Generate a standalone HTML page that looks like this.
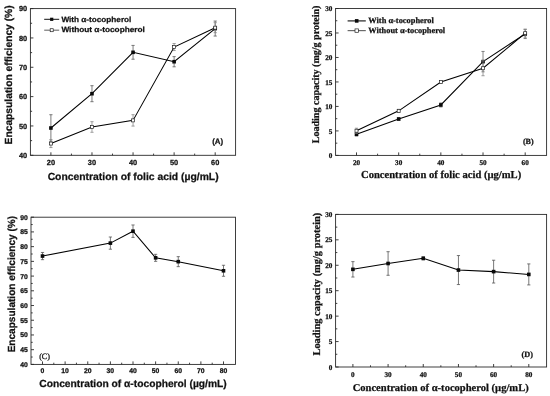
<!DOCTYPE html>
<html lang="en"><head><meta charset="utf-8"><title>Figure</title>
<style>html,body{margin:0;padding:0;background:#fff;}body{width:550px;height:396px;overflow:hidden;}</style></head>
<body>
<svg width="550" height="396" viewBox="0 0 550 396" style="display:block" text-rendering="geometricPrecision">
<rect width="550" height="396" fill="#fff"/>
<g>
<rect x="30.40" y="8.60" width="205.20" height="146.70" fill="none" stroke="#2a2a2a" stroke-width="0.9"/>
<line x1="50.90" y1="155.30" x2="50.90" y2="152.30" stroke="#2a2a2a" stroke-width="0.9"/>
<text x="50.90" y="165.00" font-size="7.4" font-family='"Liberation Sans", Arial, Helvetica, sans-serif' font-weight="bold" text-anchor="middle" fill="#111" stroke="#111" stroke-width="0.25">20</text>
<line x1="91.97" y1="155.30" x2="91.97" y2="152.30" stroke="#2a2a2a" stroke-width="0.9"/>
<text x="91.97" y="165.00" font-size="7.4" font-family='"Liberation Sans", Arial, Helvetica, sans-serif' font-weight="bold" text-anchor="middle" fill="#111" stroke="#111" stroke-width="0.25">30</text>
<line x1="133.05" y1="155.30" x2="133.05" y2="152.30" stroke="#2a2a2a" stroke-width="0.9"/>
<text x="133.05" y="165.00" font-size="7.4" font-family='"Liberation Sans", Arial, Helvetica, sans-serif' font-weight="bold" text-anchor="middle" fill="#111" stroke="#111" stroke-width="0.25">40</text>
<line x1="174.12" y1="155.30" x2="174.12" y2="152.30" stroke="#2a2a2a" stroke-width="0.9"/>
<text x="174.12" y="165.00" font-size="7.4" font-family='"Liberation Sans", Arial, Helvetica, sans-serif' font-weight="bold" text-anchor="middle" fill="#111" stroke="#111" stroke-width="0.25">50</text>
<line x1="215.20" y1="155.30" x2="215.20" y2="152.30" stroke="#2a2a2a" stroke-width="0.9"/>
<text x="215.20" y="165.00" font-size="7.4" font-family='"Liberation Sans", Arial, Helvetica, sans-serif' font-weight="bold" text-anchor="middle" fill="#111" stroke="#111" stroke-width="0.25">60</text>
<line x1="71.44" y1="155.30" x2="71.44" y2="153.60" stroke="#2a2a2a" stroke-width="0.9"/>
<line x1="112.51" y1="155.30" x2="112.51" y2="153.60" stroke="#2a2a2a" stroke-width="0.9"/>
<line x1="153.59" y1="155.30" x2="153.59" y2="153.60" stroke="#2a2a2a" stroke-width="0.9"/>
<line x1="194.66" y1="155.30" x2="194.66" y2="153.60" stroke="#2a2a2a" stroke-width="0.9"/>
<line x1="30.40" y1="155.30" x2="33.40" y2="155.30" stroke="#2a2a2a" stroke-width="0.9"/>
<text x="27.20" y="157.96" font-size="7.4" font-family='"Liberation Sans", Arial, Helvetica, sans-serif' font-weight="bold" text-anchor="end" fill="#111" stroke="#111" stroke-width="0.25">40</text>
<line x1="30.40" y1="125.96" x2="33.40" y2="125.96" stroke="#2a2a2a" stroke-width="0.9"/>
<text x="27.20" y="128.62" font-size="7.4" font-family='"Liberation Sans", Arial, Helvetica, sans-serif' font-weight="bold" text-anchor="end" fill="#111" stroke="#111" stroke-width="0.25">50</text>
<line x1="30.40" y1="96.62" x2="33.40" y2="96.62" stroke="#2a2a2a" stroke-width="0.9"/>
<text x="27.20" y="99.28" font-size="7.4" font-family='"Liberation Sans", Arial, Helvetica, sans-serif' font-weight="bold" text-anchor="end" fill="#111" stroke="#111" stroke-width="0.25">60</text>
<line x1="30.40" y1="67.28" x2="33.40" y2="67.28" stroke="#2a2a2a" stroke-width="0.9"/>
<text x="27.20" y="69.94" font-size="7.4" font-family='"Liberation Sans", Arial, Helvetica, sans-serif' font-weight="bold" text-anchor="end" fill="#111" stroke="#111" stroke-width="0.25">70</text>
<line x1="30.40" y1="37.94" x2="33.40" y2="37.94" stroke="#2a2a2a" stroke-width="0.9"/>
<text x="27.20" y="40.60" font-size="7.4" font-family='"Liberation Sans", Arial, Helvetica, sans-serif' font-weight="bold" text-anchor="end" fill="#111" stroke="#111" stroke-width="0.25">80</text>
<line x1="30.40" y1="8.60" x2="33.40" y2="8.60" stroke="#2a2a2a" stroke-width="0.9"/>
<text x="27.20" y="11.26" font-size="7.4" font-family='"Liberation Sans", Arial, Helvetica, sans-serif' font-weight="bold" text-anchor="end" fill="#111" stroke="#111" stroke-width="0.25">90</text>
<line x1="30.40" y1="140.63" x2="32.10" y2="140.63" stroke="#2a2a2a" stroke-width="0.9"/>
<line x1="30.40" y1="111.29" x2="32.10" y2="111.29" stroke="#2a2a2a" stroke-width="0.9"/>
<line x1="30.40" y1="81.95" x2="32.10" y2="81.95" stroke="#2a2a2a" stroke-width="0.9"/>
<line x1="30.40" y1="52.61" x2="32.10" y2="52.61" stroke="#2a2a2a" stroke-width="0.9"/>
<line x1="30.40" y1="23.27" x2="32.10" y2="23.27" stroke="#2a2a2a" stroke-width="0.9"/>
<text x="133.15" y="180.10" font-size="10.3" font-family='"Liberation Sans", Arial, Helvetica, sans-serif' font-weight="bold" text-anchor="middle" fill="#111" stroke="#111" stroke-width="0.25" textLength="171.0" lengthAdjust="spacingAndGlyphs">Concentration of folic acid (µg/mL)</text>
<text x="11.80" y="74.90" font-size="10.3" font-family='"Liberation Sans", Arial, Helvetica, sans-serif' font-weight="bold" text-anchor="middle" fill="#111" stroke="#111" stroke-width="0.25" transform="rotate(-90 11.80 74.90)" textLength="139.0" lengthAdjust="spacingAndGlyphs">Encapsulation efficiency (%)</text>
<text x="217.70" y="144.00" font-size="7.9" font-family='"Liberation Sans", Arial, Helvetica, sans-serif' font-weight="bold" text-anchor="middle" fill="#111" stroke="#111" stroke-width="0.25">(A)</text>
<line x1="50.90" y1="114.71" x2="50.90" y2="141.31" stroke="#5a5a5a" stroke-width="0.8"/>
<line x1="49.30" y1="114.71" x2="52.50" y2="114.71" stroke="#5a5a5a" stroke-width="0.8"/>
<line x1="49.30" y1="141.31" x2="52.50" y2="141.31" stroke="#5a5a5a" stroke-width="0.8"/>
<line x1="91.97" y1="85.69" x2="91.97" y2="101.69" stroke="#5a5a5a" stroke-width="0.8"/>
<line x1="90.38" y1="85.69" x2="93.57" y2="85.69" stroke="#5a5a5a" stroke-width="0.8"/>
<line x1="90.38" y1="101.69" x2="93.57" y2="101.69" stroke="#5a5a5a" stroke-width="0.8"/>
<line x1="133.05" y1="45.42" x2="133.05" y2="59.22" stroke="#5a5a5a" stroke-width="0.8"/>
<line x1="131.45" y1="45.42" x2="134.65" y2="45.42" stroke="#5a5a5a" stroke-width="0.8"/>
<line x1="131.45" y1="59.22" x2="134.65" y2="59.22" stroke="#5a5a5a" stroke-width="0.8"/>
<line x1="174.12" y1="56.61" x2="174.12" y2="66.81" stroke="#5a5a5a" stroke-width="0.8"/>
<line x1="172.52" y1="56.61" x2="175.72" y2="56.61" stroke="#5a5a5a" stroke-width="0.8"/>
<line x1="172.52" y1="66.81" x2="175.72" y2="66.81" stroke="#5a5a5a" stroke-width="0.8"/>
<line x1="215.20" y1="21.05" x2="215.20" y2="36.05" stroke="#5a5a5a" stroke-width="0.8"/>
<line x1="213.60" y1="21.05" x2="216.80" y2="21.05" stroke="#5a5a5a" stroke-width="0.8"/>
<line x1="213.60" y1="36.05" x2="216.80" y2="36.05" stroke="#5a5a5a" stroke-width="0.8"/>
<polyline fill="none" stroke="#000" stroke-width="1.05" points="50.90,128.01 91.97,93.69 133.05,52.32 174.12,61.71 215.20,28.55"/>
<rect x="49.10" y="126.21" width="3.6" height="3.6" fill="#0a0a0a"/>
<rect x="90.17" y="91.89" width="3.6" height="3.6" fill="#0a0a0a"/>
<rect x="131.25" y="50.52" width="3.6" height="3.6" fill="#0a0a0a"/>
<rect x="172.32" y="59.91" width="3.6" height="3.6" fill="#0a0a0a"/>
<rect x="213.40" y="26.75" width="3.6" height="3.6" fill="#0a0a0a"/>
<line x1="50.90" y1="139.56" x2="50.90" y2="147.56" stroke="#888" stroke-width="0.8"/>
<line x1="49.30" y1="139.56" x2="52.50" y2="139.56" stroke="#888" stroke-width="0.8"/>
<line x1="49.30" y1="147.56" x2="52.50" y2="147.56" stroke="#888" stroke-width="0.8"/>
<line x1="91.97" y1="121.69" x2="91.97" y2="132.29" stroke="#888" stroke-width="0.8"/>
<line x1="90.38" y1="121.69" x2="93.57" y2="121.69" stroke="#888" stroke-width="0.8"/>
<line x1="90.38" y1="132.29" x2="93.57" y2="132.29" stroke="#888" stroke-width="0.8"/>
<line x1="133.05" y1="114.69" x2="133.05" y2="126.09" stroke="#888" stroke-width="0.8"/>
<line x1="131.45" y1="114.69" x2="134.65" y2="114.69" stroke="#888" stroke-width="0.8"/>
<line x1="131.45" y1="126.09" x2="134.65" y2="126.09" stroke="#888" stroke-width="0.8"/>
<line x1="174.12" y1="43.54" x2="174.12" y2="50.54" stroke="#888" stroke-width="0.8"/>
<line x1="172.52" y1="43.54" x2="175.72" y2="43.54" stroke="#888" stroke-width="0.8"/>
<line x1="172.52" y1="50.54" x2="175.72" y2="50.54" stroke="#888" stroke-width="0.8"/>
<line x1="215.20" y1="22.67" x2="215.20" y2="32.67" stroke="#888" stroke-width="0.8"/>
<line x1="213.60" y1="22.67" x2="216.80" y2="22.67" stroke="#888" stroke-width="0.8"/>
<line x1="213.60" y1="32.67" x2="216.80" y2="32.67" stroke="#888" stroke-width="0.8"/>
<polyline fill="none" stroke="#000" stroke-width="1.05" points="50.90,143.56 91.97,126.99 133.05,120.39 174.12,47.04 215.20,27.67"/>
<rect x="49.40" y="142.06" width="3.0" height="3.0" fill="#fff" stroke="#222" stroke-width="0.7"/>
<rect x="90.47" y="125.49" width="3.0" height="3.0" fill="#fff" stroke="#222" stroke-width="0.7"/>
<rect x="131.55" y="118.89" width="3.0" height="3.0" fill="#fff" stroke="#222" stroke-width="0.7"/>
<rect x="172.62" y="45.54" width="3.0" height="3.0" fill="#fff" stroke="#222" stroke-width="0.7"/>
<rect x="213.70" y="26.17" width="3.0" height="3.0" fill="#fff" stroke="#222" stroke-width="0.7"/>
<line x1="44.20" y1="19.30" x2="59.20" y2="19.30" stroke="#111" stroke-width="1.0"/>
<rect x="50.10" y="17.70" width="3.2" height="3.2" fill="#0a0a0a"/>
<text x="61.40" y="21.73" font-size="7.5" font-family='"Liberation Sans", Arial, Helvetica, sans-serif' font-weight="bold" text-anchor="start" fill="#111" stroke="#111" stroke-width="0.25" textLength="70.0" lengthAdjust="spacingAndGlyphs">With α-tocopherol</text>
<line x1="44.20" y1="30.20" x2="59.20" y2="30.20" stroke="#777" stroke-width="1.2"/>
<rect x="50.20" y="28.70" width="3.0" height="3.0" fill="#fff" stroke="#222" stroke-width="0.7"/>
<text x="61.40" y="32.12" font-size="7.5" font-family='"Liberation Sans", Arial, Helvetica, sans-serif' font-weight="bold" text-anchor="start" fill="#111" stroke="#111" stroke-width="0.25" textLength="83.5" lengthAdjust="spacingAndGlyphs">Without α-tocopherol</text>
</g>
<g>
<rect x="335.60" y="8.50" width="211.00" height="146.90" fill="none" stroke="#2a2a2a" stroke-width="0.9"/>
<line x1="356.50" y1="155.40" x2="356.50" y2="152.40" stroke="#2a2a2a" stroke-width="0.9"/>
<text x="356.50" y="164.80" font-size="7.2" font-family='"Liberation Serif", "Times New Roman", Times, serif' font-weight="bold" text-anchor="middle" fill="#111" stroke="#111" stroke-width="0.25">20</text>
<line x1="398.68" y1="155.40" x2="398.68" y2="152.40" stroke="#2a2a2a" stroke-width="0.9"/>
<text x="398.68" y="164.80" font-size="7.2" font-family='"Liberation Serif", "Times New Roman", Times, serif' font-weight="bold" text-anchor="middle" fill="#111" stroke="#111" stroke-width="0.25">30</text>
<line x1="440.85" y1="155.40" x2="440.85" y2="152.40" stroke="#2a2a2a" stroke-width="0.9"/>
<text x="440.85" y="164.80" font-size="7.2" font-family='"Liberation Serif", "Times New Roman", Times, serif' font-weight="bold" text-anchor="middle" fill="#111" stroke="#111" stroke-width="0.25">40</text>
<line x1="483.03" y1="155.40" x2="483.03" y2="152.40" stroke="#2a2a2a" stroke-width="0.9"/>
<text x="483.03" y="164.80" font-size="7.2" font-family='"Liberation Serif", "Times New Roman", Times, serif' font-weight="bold" text-anchor="middle" fill="#111" stroke="#111" stroke-width="0.25">50</text>
<line x1="525.20" y1="155.40" x2="525.20" y2="152.40" stroke="#2a2a2a" stroke-width="0.9"/>
<text x="525.20" y="164.80" font-size="7.2" font-family='"Liberation Serif", "Times New Roman", Times, serif' font-weight="bold" text-anchor="middle" fill="#111" stroke="#111" stroke-width="0.25">60</text>
<line x1="377.59" y1="155.40" x2="377.59" y2="153.70" stroke="#2a2a2a" stroke-width="0.9"/>
<line x1="419.76" y1="155.40" x2="419.76" y2="153.70" stroke="#2a2a2a" stroke-width="0.9"/>
<line x1="461.94" y1="155.40" x2="461.94" y2="153.70" stroke="#2a2a2a" stroke-width="0.9"/>
<line x1="504.11" y1="155.40" x2="504.11" y2="153.70" stroke="#2a2a2a" stroke-width="0.9"/>
<line x1="335.60" y1="155.40" x2="338.60" y2="155.40" stroke="#2a2a2a" stroke-width="0.9"/>
<text x="332.40" y="157.99" font-size="7.2" font-family='"Liberation Serif", "Times New Roman", Times, serif' font-weight="bold" text-anchor="end" fill="#111" stroke="#111" stroke-width="0.25">0</text>
<line x1="335.60" y1="130.92" x2="338.60" y2="130.92" stroke="#2a2a2a" stroke-width="0.9"/>
<text x="332.40" y="133.51" font-size="7.2" font-family='"Liberation Serif", "Times New Roman", Times, serif' font-weight="bold" text-anchor="end" fill="#111" stroke="#111" stroke-width="0.25">5</text>
<line x1="335.60" y1="106.43" x2="338.60" y2="106.43" stroke="#2a2a2a" stroke-width="0.9"/>
<text x="332.40" y="109.03" font-size="7.2" font-family='"Liberation Serif", "Times New Roman", Times, serif' font-weight="bold" text-anchor="end" fill="#111" stroke="#111" stroke-width="0.25">10</text>
<line x1="335.60" y1="81.95" x2="338.60" y2="81.95" stroke="#2a2a2a" stroke-width="0.9"/>
<text x="332.40" y="84.54" font-size="7.2" font-family='"Liberation Serif", "Times New Roman", Times, serif' font-weight="bold" text-anchor="end" fill="#111" stroke="#111" stroke-width="0.25">15</text>
<line x1="335.60" y1="57.47" x2="338.60" y2="57.47" stroke="#2a2a2a" stroke-width="0.9"/>
<text x="332.40" y="60.06" font-size="7.2" font-family='"Liberation Serif", "Times New Roman", Times, serif' font-weight="bold" text-anchor="end" fill="#111" stroke="#111" stroke-width="0.25">20</text>
<line x1="335.60" y1="32.98" x2="338.60" y2="32.98" stroke="#2a2a2a" stroke-width="0.9"/>
<text x="332.40" y="35.58" font-size="7.2" font-family='"Liberation Serif", "Times New Roman", Times, serif' font-weight="bold" text-anchor="end" fill="#111" stroke="#111" stroke-width="0.25">25</text>
<line x1="335.60" y1="8.50" x2="338.60" y2="8.50" stroke="#2a2a2a" stroke-width="0.9"/>
<text x="332.40" y="11.09" font-size="7.2" font-family='"Liberation Serif", "Times New Roman", Times, serif' font-weight="bold" text-anchor="end" fill="#111" stroke="#111" stroke-width="0.25">30</text>
<line x1="335.60" y1="143.16" x2="337.30" y2="143.16" stroke="#2a2a2a" stroke-width="0.9"/>
<line x1="335.60" y1="118.68" x2="337.30" y2="118.68" stroke="#2a2a2a" stroke-width="0.9"/>
<line x1="335.60" y1="94.19" x2="337.30" y2="94.19" stroke="#2a2a2a" stroke-width="0.9"/>
<line x1="335.60" y1="69.71" x2="337.30" y2="69.71" stroke="#2a2a2a" stroke-width="0.9"/>
<line x1="335.60" y1="45.23" x2="337.30" y2="45.23" stroke="#2a2a2a" stroke-width="0.9"/>
<line x1="335.60" y1="20.74" x2="337.30" y2="20.74" stroke="#2a2a2a" stroke-width="0.9"/>
<text x="441.10" y="178.00" font-size="10.6" font-family='"Liberation Serif", "Times New Roman", Times, serif' font-weight="bold" text-anchor="middle" fill="#111" stroke="#111" stroke-width="0.25" textLength="160.2" lengthAdjust="spacingAndGlyphs">Concentration of folic acid (µg/mL)</text>
<text x="319.10" y="74.40" font-size="10.2" font-family='"Liberation Serif", "Times New Roman", Times, serif' font-weight="bold" text-anchor="middle" fill="#111" stroke="#111" stroke-width="0.25" transform="rotate(-90 319.10 74.40)" textLength="137.7" lengthAdjust="spacingAndGlyphs">Loading capacity (mg/g protein)</text>
<text x="528.30" y="144.30" font-size="8.0" font-family='"Liberation Serif", "Times New Roman", Times, serif' font-weight="bold" text-anchor="middle" fill="#111" stroke="#111" stroke-width="0.25">(B)</text>
<line x1="356.50" y1="132.84" x2="356.50" y2="135.84" stroke="#666" stroke-width="0.8"/>
<line x1="354.90" y1="132.84" x2="358.10" y2="132.84" stroke="#666" stroke-width="0.8"/>
<line x1="354.90" y1="135.84" x2="358.10" y2="135.84" stroke="#666" stroke-width="0.8"/>
<line x1="398.68" y1="117.82" x2="398.68" y2="120.22" stroke="#666" stroke-width="0.8"/>
<line x1="397.07" y1="117.82" x2="400.28" y2="117.82" stroke="#666" stroke-width="0.8"/>
<line x1="397.07" y1="120.22" x2="400.28" y2="120.22" stroke="#666" stroke-width="0.8"/>
<line x1="440.85" y1="102.96" x2="440.85" y2="106.96" stroke="#666" stroke-width="0.8"/>
<line x1="439.25" y1="102.96" x2="442.45" y2="102.96" stroke="#666" stroke-width="0.8"/>
<line x1="439.25" y1="106.96" x2="442.45" y2="106.96" stroke="#666" stroke-width="0.8"/>
<line x1="483.03" y1="51.43" x2="483.03" y2="71.83" stroke="#666" stroke-width="0.8"/>
<line x1="481.43" y1="51.43" x2="484.63" y2="51.43" stroke="#666" stroke-width="0.8"/>
<line x1="481.43" y1="71.83" x2="484.63" y2="71.83" stroke="#666" stroke-width="0.8"/>
<line x1="525.20" y1="29.36" x2="525.20" y2="38.56" stroke="#666" stroke-width="0.8"/>
<line x1="523.60" y1="29.36" x2="526.80" y2="29.36" stroke="#666" stroke-width="0.8"/>
<line x1="523.60" y1="38.56" x2="526.80" y2="38.56" stroke="#666" stroke-width="0.8"/>
<polyline fill="none" stroke="#000" stroke-width="1.05" points="356.50,134.34 398.68,119.02 440.85,104.96 483.03,61.63 525.20,33.96"/>
<rect x="354.70" y="132.54" width="3.6" height="3.6" fill="#0a0a0a"/>
<rect x="396.88" y="117.22" width="3.6" height="3.6" fill="#0a0a0a"/>
<rect x="439.05" y="103.16" width="3.6" height="3.6" fill="#0a0a0a"/>
<rect x="481.23" y="59.83" width="3.6" height="3.6" fill="#0a0a0a"/>
<rect x="523.40" y="32.16" width="3.6" height="3.6" fill="#0a0a0a"/>
<line x1="356.50" y1="128.22" x2="356.50" y2="133.22" stroke="#888" stroke-width="0.8"/>
<line x1="354.90" y1="128.22" x2="358.10" y2="128.22" stroke="#888" stroke-width="0.8"/>
<line x1="354.90" y1="133.22" x2="358.10" y2="133.22" stroke="#888" stroke-width="0.8"/>
<line x1="398.68" y1="109.34" x2="398.68" y2="112.34" stroke="#888" stroke-width="0.8"/>
<line x1="397.07" y1="109.34" x2="400.28" y2="109.34" stroke="#888" stroke-width="0.8"/>
<line x1="397.07" y1="112.34" x2="400.28" y2="112.34" stroke="#888" stroke-width="0.8"/>
<line x1="440.85" y1="80.75" x2="440.85" y2="83.15" stroke="#888" stroke-width="0.8"/>
<line x1="439.25" y1="80.75" x2="442.45" y2="80.75" stroke="#888" stroke-width="0.8"/>
<line x1="439.25" y1="83.15" x2="442.45" y2="83.15" stroke="#888" stroke-width="0.8"/>
<line x1="483.03" y1="60.74" x2="483.03" y2="75.74" stroke="#888" stroke-width="0.8"/>
<line x1="481.43" y1="60.74" x2="484.63" y2="60.74" stroke="#888" stroke-width="0.8"/>
<line x1="481.43" y1="75.74" x2="484.63" y2="75.74" stroke="#888" stroke-width="0.8"/>
<line x1="525.20" y1="29.18" x2="525.20" y2="37.18" stroke="#888" stroke-width="0.8"/>
<line x1="523.60" y1="29.18" x2="526.80" y2="29.18" stroke="#888" stroke-width="0.8"/>
<line x1="523.60" y1="37.18" x2="526.80" y2="37.18" stroke="#888" stroke-width="0.8"/>
<polyline fill="none" stroke="#000" stroke-width="1.05" points="356.50,130.72 398.68,110.84 440.85,81.95 483.03,68.24 525.20,33.18"/>
<rect x="355.00" y="129.22" width="3.0" height="3.0" fill="#fff" stroke="#222" stroke-width="0.7"/>
<rect x="397.18" y="109.34" width="3.0" height="3.0" fill="#fff" stroke="#222" stroke-width="0.7"/>
<rect x="439.35" y="80.45" width="3.0" height="3.0" fill="#fff" stroke="#222" stroke-width="0.7"/>
<rect x="481.53" y="66.74" width="3.0" height="3.0" fill="#fff" stroke="#222" stroke-width="0.7"/>
<rect x="523.70" y="31.68" width="3.0" height="3.0" fill="#fff" stroke="#222" stroke-width="0.7"/>
<line x1="347.60" y1="20.90" x2="365.80" y2="20.90" stroke="#222" stroke-width="1.2"/>
<rect x="354.90" y="19.10" width="3.6" height="3.6" fill="#0a0a0a"/>
<text x="368.30" y="23.37" font-size="8.2" font-family='"Liberation Serif", "Times New Roman", Times, serif' font-weight="bold" text-anchor="start" fill="#111" stroke="#111" stroke-width="0.25" textLength="65.6" lengthAdjust="spacingAndGlyphs">With α-tocopherol</text>
<line x1="347.60" y1="30.60" x2="365.80" y2="30.60" stroke="#6a6a6a" stroke-width="1.2"/>
<rect x="355.00" y="28.90" width="3.4" height="3.4" fill="#fff" stroke="#222" stroke-width="0.7"/>
<text x="368.30" y="33.27" font-size="8.2" font-family='"Liberation Serif", "Times New Roman", Times, serif' font-weight="bold" text-anchor="start" fill="#111" stroke="#111" stroke-width="0.25" textLength="76.9" lengthAdjust="spacingAndGlyphs">Without α-tocopherol</text>
</g>
<g>
<rect x="31.00" y="217.20" width="204.50" height="147.20" fill="none" stroke="#2a2a2a" stroke-width="0.9"/>
<line x1="42.50" y1="364.40" x2="42.50" y2="361.40" stroke="#2a2a2a" stroke-width="0.9"/>
<text x="42.50" y="373.00" font-size="6.8" font-family='"Liberation Sans", Arial, Helvetica, sans-serif' font-weight="bold" text-anchor="middle" fill="#111" stroke="#111" stroke-width="0.25">0</text>
<line x1="65.12" y1="364.40" x2="65.12" y2="361.40" stroke="#2a2a2a" stroke-width="0.9"/>
<text x="65.12" y="373.00" font-size="6.8" font-family='"Liberation Sans", Arial, Helvetica, sans-serif' font-weight="bold" text-anchor="middle" fill="#111" stroke="#111" stroke-width="0.25">10</text>
<line x1="87.75" y1="364.40" x2="87.75" y2="361.40" stroke="#2a2a2a" stroke-width="0.9"/>
<text x="87.75" y="373.00" font-size="6.8" font-family='"Liberation Sans", Arial, Helvetica, sans-serif' font-weight="bold" text-anchor="middle" fill="#111" stroke="#111" stroke-width="0.25">20</text>
<line x1="110.38" y1="364.40" x2="110.38" y2="361.40" stroke="#2a2a2a" stroke-width="0.9"/>
<text x="110.38" y="373.00" font-size="6.8" font-family='"Liberation Sans", Arial, Helvetica, sans-serif' font-weight="bold" text-anchor="middle" fill="#111" stroke="#111" stroke-width="0.25">30</text>
<line x1="133.00" y1="364.40" x2="133.00" y2="361.40" stroke="#2a2a2a" stroke-width="0.9"/>
<text x="133.00" y="373.00" font-size="6.8" font-family='"Liberation Sans", Arial, Helvetica, sans-serif' font-weight="bold" text-anchor="middle" fill="#111" stroke="#111" stroke-width="0.25">40</text>
<line x1="155.62" y1="364.40" x2="155.62" y2="361.40" stroke="#2a2a2a" stroke-width="0.9"/>
<text x="155.62" y="373.00" font-size="6.8" font-family='"Liberation Sans", Arial, Helvetica, sans-serif' font-weight="bold" text-anchor="middle" fill="#111" stroke="#111" stroke-width="0.25">50</text>
<line x1="178.25" y1="364.40" x2="178.25" y2="361.40" stroke="#2a2a2a" stroke-width="0.9"/>
<text x="178.25" y="373.00" font-size="6.8" font-family='"Liberation Sans", Arial, Helvetica, sans-serif' font-weight="bold" text-anchor="middle" fill="#111" stroke="#111" stroke-width="0.25">60</text>
<line x1="200.88" y1="364.40" x2="200.88" y2="361.40" stroke="#2a2a2a" stroke-width="0.9"/>
<text x="200.88" y="373.00" font-size="6.8" font-family='"Liberation Sans", Arial, Helvetica, sans-serif' font-weight="bold" text-anchor="middle" fill="#111" stroke="#111" stroke-width="0.25">70</text>
<line x1="223.50" y1="364.40" x2="223.50" y2="361.40" stroke="#2a2a2a" stroke-width="0.9"/>
<text x="223.50" y="373.00" font-size="6.8" font-family='"Liberation Sans", Arial, Helvetica, sans-serif' font-weight="bold" text-anchor="middle" fill="#111" stroke="#111" stroke-width="0.25">80</text>
<line x1="53.81" y1="364.40" x2="53.81" y2="362.70" stroke="#2a2a2a" stroke-width="0.9"/>
<line x1="76.44" y1="364.40" x2="76.44" y2="362.70" stroke="#2a2a2a" stroke-width="0.9"/>
<line x1="99.06" y1="364.40" x2="99.06" y2="362.70" stroke="#2a2a2a" stroke-width="0.9"/>
<line x1="121.69" y1="364.40" x2="121.69" y2="362.70" stroke="#2a2a2a" stroke-width="0.9"/>
<line x1="144.31" y1="364.40" x2="144.31" y2="362.70" stroke="#2a2a2a" stroke-width="0.9"/>
<line x1="166.94" y1="364.40" x2="166.94" y2="362.70" stroke="#2a2a2a" stroke-width="0.9"/>
<line x1="189.56" y1="364.40" x2="189.56" y2="362.70" stroke="#2a2a2a" stroke-width="0.9"/>
<line x1="212.19" y1="364.40" x2="212.19" y2="362.70" stroke="#2a2a2a" stroke-width="0.9"/>
<line x1="31.00" y1="364.40" x2="34.00" y2="364.40" stroke="#2a2a2a" stroke-width="0.9"/>
<text x="27.80" y="366.85" font-size="6.8" font-family='"Liberation Sans", Arial, Helvetica, sans-serif' font-weight="bold" text-anchor="end" fill="#111" stroke="#111" stroke-width="0.25">40</text>
<line x1="31.00" y1="349.68" x2="34.00" y2="349.68" stroke="#2a2a2a" stroke-width="0.9"/>
<text x="27.80" y="352.13" font-size="6.8" font-family='"Liberation Sans", Arial, Helvetica, sans-serif' font-weight="bold" text-anchor="end" fill="#111" stroke="#111" stroke-width="0.25">45</text>
<line x1="31.00" y1="334.96" x2="34.00" y2="334.96" stroke="#2a2a2a" stroke-width="0.9"/>
<text x="27.80" y="337.41" font-size="6.8" font-family='"Liberation Sans", Arial, Helvetica, sans-serif' font-weight="bold" text-anchor="end" fill="#111" stroke="#111" stroke-width="0.25">50</text>
<line x1="31.00" y1="320.24" x2="34.00" y2="320.24" stroke="#2a2a2a" stroke-width="0.9"/>
<text x="27.80" y="322.69" font-size="6.8" font-family='"Liberation Sans", Arial, Helvetica, sans-serif' font-weight="bold" text-anchor="end" fill="#111" stroke="#111" stroke-width="0.25">55</text>
<line x1="31.00" y1="305.52" x2="34.00" y2="305.52" stroke="#2a2a2a" stroke-width="0.9"/>
<text x="27.80" y="307.97" font-size="6.8" font-family='"Liberation Sans", Arial, Helvetica, sans-serif' font-weight="bold" text-anchor="end" fill="#111" stroke="#111" stroke-width="0.25">60</text>
<line x1="31.00" y1="290.80" x2="34.00" y2="290.80" stroke="#2a2a2a" stroke-width="0.9"/>
<text x="27.80" y="293.25" font-size="6.8" font-family='"Liberation Sans", Arial, Helvetica, sans-serif' font-weight="bold" text-anchor="end" fill="#111" stroke="#111" stroke-width="0.25">65</text>
<line x1="31.00" y1="276.08" x2="34.00" y2="276.08" stroke="#2a2a2a" stroke-width="0.9"/>
<text x="27.80" y="278.53" font-size="6.8" font-family='"Liberation Sans", Arial, Helvetica, sans-serif' font-weight="bold" text-anchor="end" fill="#111" stroke="#111" stroke-width="0.25">70</text>
<line x1="31.00" y1="261.36" x2="34.00" y2="261.36" stroke="#2a2a2a" stroke-width="0.9"/>
<text x="27.80" y="263.81" font-size="6.8" font-family='"Liberation Sans", Arial, Helvetica, sans-serif' font-weight="bold" text-anchor="end" fill="#111" stroke="#111" stroke-width="0.25">75</text>
<line x1="31.00" y1="246.64" x2="34.00" y2="246.64" stroke="#2a2a2a" stroke-width="0.9"/>
<text x="27.80" y="249.09" font-size="6.8" font-family='"Liberation Sans", Arial, Helvetica, sans-serif' font-weight="bold" text-anchor="end" fill="#111" stroke="#111" stroke-width="0.25">80</text>
<line x1="31.00" y1="231.92" x2="34.00" y2="231.92" stroke="#2a2a2a" stroke-width="0.9"/>
<text x="27.80" y="234.37" font-size="6.8" font-family='"Liberation Sans", Arial, Helvetica, sans-serif' font-weight="bold" text-anchor="end" fill="#111" stroke="#111" stroke-width="0.25">85</text>
<line x1="31.00" y1="217.20" x2="34.00" y2="217.20" stroke="#2a2a2a" stroke-width="0.9"/>
<text x="27.80" y="219.65" font-size="6.8" font-family='"Liberation Sans", Arial, Helvetica, sans-serif' font-weight="bold" text-anchor="end" fill="#111" stroke="#111" stroke-width="0.25">90</text>
<line x1="31.00" y1="357.04" x2="32.70" y2="357.04" stroke="#2a2a2a" stroke-width="0.9"/>
<line x1="31.00" y1="342.32" x2="32.70" y2="342.32" stroke="#2a2a2a" stroke-width="0.9"/>
<line x1="31.00" y1="327.60" x2="32.70" y2="327.60" stroke="#2a2a2a" stroke-width="0.9"/>
<line x1="31.00" y1="312.88" x2="32.70" y2="312.88" stroke="#2a2a2a" stroke-width="0.9"/>
<line x1="31.00" y1="298.16" x2="32.70" y2="298.16" stroke="#2a2a2a" stroke-width="0.9"/>
<line x1="31.00" y1="283.44" x2="32.70" y2="283.44" stroke="#2a2a2a" stroke-width="0.9"/>
<line x1="31.00" y1="268.72" x2="32.70" y2="268.72" stroke="#2a2a2a" stroke-width="0.9"/>
<line x1="31.00" y1="254.00" x2="32.70" y2="254.00" stroke="#2a2a2a" stroke-width="0.9"/>
<line x1="31.00" y1="239.28" x2="32.70" y2="239.28" stroke="#2a2a2a" stroke-width="0.9"/>
<line x1="31.00" y1="224.56" x2="32.70" y2="224.56" stroke="#2a2a2a" stroke-width="0.9"/>
<text x="133.00" y="386.80" font-size="10.3" font-family='"Liberation Sans", Arial, Helvetica, sans-serif' font-weight="bold" text-anchor="middle" fill="#111" stroke="#111" stroke-width="0.25" textLength="187.5" lengthAdjust="spacingAndGlyphs">Concentration of α-tocopherol (µg/mL)</text>
<text x="14.90" y="284.10" font-size="10.3" font-family='"Liberation Sans", Arial, Helvetica, sans-serif' font-weight="bold" text-anchor="middle" fill="#111" stroke="#111" stroke-width="0.25" transform="rotate(-90 14.90 284.10)" textLength="136.5" lengthAdjust="spacingAndGlyphs">Encapsulation efficiency (%)</text>
<text x="44.60" y="358.60" font-size="8.2" font-family='"Liberation Serif", "Times New Roman", Times, serif' font-weight="normal" text-anchor="middle" fill="#111" stroke="#111" stroke-width="0.25">(C)</text>
<line x1="42.50" y1="252.46" x2="42.50" y2="259.66" stroke="#555" stroke-width="0.8"/>
<line x1="40.90" y1="252.46" x2="44.10" y2="252.46" stroke="#555" stroke-width="0.8"/>
<line x1="40.90" y1="259.66" x2="44.10" y2="259.66" stroke="#555" stroke-width="0.8"/>
<line x1="110.38" y1="237.01" x2="110.38" y2="249.21" stroke="#555" stroke-width="0.8"/>
<line x1="108.78" y1="237.01" x2="111.97" y2="237.01" stroke="#555" stroke-width="0.8"/>
<line x1="108.78" y1="249.21" x2="111.97" y2="249.21" stroke="#555" stroke-width="0.8"/>
<line x1="133.00" y1="224.98" x2="133.00" y2="237.38" stroke="#555" stroke-width="0.8"/>
<line x1="131.40" y1="224.98" x2="134.60" y2="224.98" stroke="#555" stroke-width="0.8"/>
<line x1="131.40" y1="237.38" x2="134.60" y2="237.38" stroke="#555" stroke-width="0.8"/>
<line x1="155.62" y1="254.33" x2="155.62" y2="261.33" stroke="#555" stroke-width="0.8"/>
<line x1="154.03" y1="254.33" x2="157.22" y2="254.33" stroke="#555" stroke-width="0.8"/>
<line x1="154.03" y1="261.33" x2="157.22" y2="261.33" stroke="#555" stroke-width="0.8"/>
<line x1="178.25" y1="256.65" x2="178.25" y2="266.65" stroke="#555" stroke-width="0.8"/>
<line x1="176.65" y1="256.65" x2="179.85" y2="256.65" stroke="#555" stroke-width="0.8"/>
<line x1="176.65" y1="266.65" x2="179.85" y2="266.65" stroke="#555" stroke-width="0.8"/>
<line x1="223.50" y1="265.28" x2="223.50" y2="276.28" stroke="#555" stroke-width="0.8"/>
<line x1="221.90" y1="265.28" x2="225.10" y2="265.28" stroke="#555" stroke-width="0.8"/>
<line x1="221.90" y1="276.28" x2="225.10" y2="276.28" stroke="#555" stroke-width="0.8"/>
<polyline fill="none" stroke="#000" stroke-width="1.05" points="42.50,256.06 110.38,243.11 133.00,231.18 155.62,257.83 178.25,261.65 223.50,270.78"/>
<rect x="40.70" y="254.26" width="3.6" height="3.6" fill="#0a0a0a"/>
<rect x="108.58" y="241.31" width="3.6" height="3.6" fill="#0a0a0a"/>
<rect x="131.20" y="229.38" width="3.6" height="3.6" fill="#0a0a0a"/>
<rect x="153.82" y="256.03" width="3.6" height="3.6" fill="#0a0a0a"/>
<rect x="176.45" y="259.85" width="3.6" height="3.6" fill="#0a0a0a"/>
<rect x="221.70" y="268.98" width="3.6" height="3.6" fill="#0a0a0a"/>
</g>
<g>
<rect x="335.60" y="214.40" width="211.00" height="152.60" fill="none" stroke="#2a2a2a" stroke-width="0.9"/>
<line x1="352.90" y1="367.00" x2="352.90" y2="364.00" stroke="#2a2a2a" stroke-width="0.9"/>
<text x="352.90" y="376.80" font-size="7.2" font-family='"Liberation Serif", "Times New Roman", Times, serif' font-weight="bold" text-anchor="middle" fill="#111" stroke="#111" stroke-width="0.25">0</text>
<line x1="388.08" y1="367.00" x2="388.08" y2="364.00" stroke="#2a2a2a" stroke-width="0.9"/>
<text x="388.08" y="376.80" font-size="7.2" font-family='"Liberation Serif", "Times New Roman", Times, serif' font-weight="bold" text-anchor="middle" fill="#111" stroke="#111" stroke-width="0.25">30</text>
<line x1="423.26" y1="367.00" x2="423.26" y2="364.00" stroke="#2a2a2a" stroke-width="0.9"/>
<text x="423.26" y="376.80" font-size="7.2" font-family='"Liberation Serif", "Times New Roman", Times, serif' font-weight="bold" text-anchor="middle" fill="#111" stroke="#111" stroke-width="0.25">40</text>
<line x1="458.44" y1="367.00" x2="458.44" y2="364.00" stroke="#2a2a2a" stroke-width="0.9"/>
<text x="458.44" y="376.80" font-size="7.2" font-family='"Liberation Serif", "Times New Roman", Times, serif' font-weight="bold" text-anchor="middle" fill="#111" stroke="#111" stroke-width="0.25">50</text>
<line x1="493.62" y1="367.00" x2="493.62" y2="364.00" stroke="#2a2a2a" stroke-width="0.9"/>
<text x="493.62" y="376.80" font-size="7.2" font-family='"Liberation Serif", "Times New Roman", Times, serif' font-weight="bold" text-anchor="middle" fill="#111" stroke="#111" stroke-width="0.25">60</text>
<line x1="528.80" y1="367.00" x2="528.80" y2="364.00" stroke="#2a2a2a" stroke-width="0.9"/>
<text x="528.80" y="376.80" font-size="7.2" font-family='"Liberation Serif", "Times New Roman", Times, serif' font-weight="bold" text-anchor="middle" fill="#111" stroke="#111" stroke-width="0.25">80</text>
<line x1="370.49" y1="367.00" x2="370.49" y2="365.30" stroke="#2a2a2a" stroke-width="0.9"/>
<line x1="405.67" y1="367.00" x2="405.67" y2="365.30" stroke="#2a2a2a" stroke-width="0.9"/>
<line x1="440.85" y1="367.00" x2="440.85" y2="365.30" stroke="#2a2a2a" stroke-width="0.9"/>
<line x1="476.03" y1="367.00" x2="476.03" y2="365.30" stroke="#2a2a2a" stroke-width="0.9"/>
<line x1="511.21" y1="367.00" x2="511.21" y2="365.30" stroke="#2a2a2a" stroke-width="0.9"/>
<line x1="335.60" y1="367.00" x2="338.60" y2="367.00" stroke="#2a2a2a" stroke-width="0.9"/>
<text x="332.40" y="369.59" font-size="7.2" font-family='"Liberation Serif", "Times New Roman", Times, serif' font-weight="bold" text-anchor="end" fill="#111" stroke="#111" stroke-width="0.25">0</text>
<line x1="335.60" y1="341.57" x2="338.60" y2="341.57" stroke="#2a2a2a" stroke-width="0.9"/>
<text x="332.40" y="344.16" font-size="7.2" font-family='"Liberation Serif", "Times New Roman", Times, serif' font-weight="bold" text-anchor="end" fill="#111" stroke="#111" stroke-width="0.25">5</text>
<line x1="335.60" y1="316.13" x2="338.60" y2="316.13" stroke="#2a2a2a" stroke-width="0.9"/>
<text x="332.40" y="318.73" font-size="7.2" font-family='"Liberation Serif", "Times New Roman", Times, serif' font-weight="bold" text-anchor="end" fill="#111" stroke="#111" stroke-width="0.25">10</text>
<line x1="335.60" y1="290.70" x2="338.60" y2="290.70" stroke="#2a2a2a" stroke-width="0.9"/>
<text x="332.40" y="293.29" font-size="7.2" font-family='"Liberation Serif", "Times New Roman", Times, serif' font-weight="bold" text-anchor="end" fill="#111" stroke="#111" stroke-width="0.25">15</text>
<line x1="335.60" y1="265.27" x2="338.60" y2="265.27" stroke="#2a2a2a" stroke-width="0.9"/>
<text x="332.40" y="267.86" font-size="7.2" font-family='"Liberation Serif", "Times New Roman", Times, serif' font-weight="bold" text-anchor="end" fill="#111" stroke="#111" stroke-width="0.25">20</text>
<line x1="335.60" y1="239.83" x2="338.60" y2="239.83" stroke="#2a2a2a" stroke-width="0.9"/>
<text x="332.40" y="242.43" font-size="7.2" font-family='"Liberation Serif", "Times New Roman", Times, serif' font-weight="bold" text-anchor="end" fill="#111" stroke="#111" stroke-width="0.25">25</text>
<line x1="335.60" y1="214.40" x2="338.60" y2="214.40" stroke="#2a2a2a" stroke-width="0.9"/>
<text x="332.40" y="216.99" font-size="7.2" font-family='"Liberation Serif", "Times New Roman", Times, serif' font-weight="bold" text-anchor="end" fill="#111" stroke="#111" stroke-width="0.25">30</text>
<line x1="335.60" y1="354.28" x2="337.30" y2="354.28" stroke="#2a2a2a" stroke-width="0.9"/>
<line x1="335.60" y1="328.85" x2="337.30" y2="328.85" stroke="#2a2a2a" stroke-width="0.9"/>
<line x1="335.60" y1="303.42" x2="337.30" y2="303.42" stroke="#2a2a2a" stroke-width="0.9"/>
<line x1="335.60" y1="277.98" x2="337.30" y2="277.98" stroke="#2a2a2a" stroke-width="0.9"/>
<line x1="335.60" y1="252.55" x2="337.30" y2="252.55" stroke="#2a2a2a" stroke-width="0.9"/>
<line x1="335.60" y1="227.12" x2="337.30" y2="227.12" stroke="#2a2a2a" stroke-width="0.9"/>
<text x="440.70" y="391.00" font-size="10.4" font-family='"Liberation Serif", "Times New Roman", Times, serif' font-weight="bold" text-anchor="middle" fill="#111" stroke="#111" stroke-width="0.25" textLength="176.0" lengthAdjust="spacingAndGlyphs">Concentration of α-tocopherol (µg/mL)</text>
<text x="319.60" y="284.10" font-size="10.5" font-family='"Liberation Serif", "Times New Roman", Times, serif' font-weight="bold" text-anchor="middle" fill="#111" stroke="#111" stroke-width="0.25" transform="rotate(-90 319.60 284.10)" textLength="142.8" lengthAdjust="spacingAndGlyphs">Loading capacity (mg/g protein)</text>
<text x="527.20" y="357.40" font-size="8.2" font-family='"Liberation Serif", "Times New Roman", Times, serif' font-weight="bold" text-anchor="middle" fill="#111" stroke="#111" stroke-width="0.25">(D)</text>
<line x1="352.90" y1="261.64" x2="352.90" y2="277.04" stroke="#555" stroke-width="0.8"/>
<line x1="351.30" y1="261.64" x2="354.50" y2="261.64" stroke="#555" stroke-width="0.8"/>
<line x1="351.30" y1="277.04" x2="354.50" y2="277.04" stroke="#555" stroke-width="0.8"/>
<line x1="388.08" y1="251.69" x2="388.08" y2="275.29" stroke="#555" stroke-width="0.8"/>
<line x1="386.48" y1="251.69" x2="389.68" y2="251.69" stroke="#555" stroke-width="0.8"/>
<line x1="386.48" y1="275.29" x2="389.68" y2="275.29" stroke="#555" stroke-width="0.8"/>
<line x1="423.26" y1="256.85" x2="423.26" y2="259.85" stroke="#555" stroke-width="0.8"/>
<line x1="421.66" y1="256.85" x2="424.86" y2="256.85" stroke="#555" stroke-width="0.8"/>
<line x1="421.66" y1="259.85" x2="424.86" y2="259.85" stroke="#555" stroke-width="0.8"/>
<line x1="458.44" y1="255.55" x2="458.44" y2="284.55" stroke="#555" stroke-width="0.8"/>
<line x1="456.84" y1="255.55" x2="460.04" y2="255.55" stroke="#555" stroke-width="0.8"/>
<line x1="456.84" y1="284.55" x2="460.04" y2="284.55" stroke="#555" stroke-width="0.8"/>
<line x1="493.62" y1="260.23" x2="493.62" y2="283.02" stroke="#555" stroke-width="0.8"/>
<line x1="492.02" y1="260.23" x2="495.22" y2="260.23" stroke="#555" stroke-width="0.8"/>
<line x1="492.02" y1="283.02" x2="495.22" y2="283.02" stroke="#555" stroke-width="0.8"/>
<line x1="528.80" y1="263.92" x2="528.80" y2="284.92" stroke="#555" stroke-width="0.8"/>
<line x1="527.20" y1="263.92" x2="530.40" y2="263.92" stroke="#555" stroke-width="0.8"/>
<line x1="527.20" y1="284.92" x2="530.40" y2="284.92" stroke="#555" stroke-width="0.8"/>
<polyline fill="none" stroke="#000" stroke-width="1.05" points="352.90,269.34 388.08,263.49 423.26,258.35 458.44,270.05 493.62,271.62 528.80,274.42"/>
<rect x="351.10" y="267.54" width="3.6" height="3.6" fill="#0a0a0a"/>
<rect x="386.28" y="261.69" width="3.6" height="3.6" fill="#0a0a0a"/>
<rect x="421.46" y="256.55" width="3.6" height="3.6" fill="#0a0a0a"/>
<rect x="456.64" y="268.25" width="3.6" height="3.6" fill="#0a0a0a"/>
<rect x="491.82" y="269.82" width="3.6" height="3.6" fill="#0a0a0a"/>
<rect x="527.00" y="272.62" width="3.6" height="3.6" fill="#0a0a0a"/>
</g>
</svg>
</body></html>
